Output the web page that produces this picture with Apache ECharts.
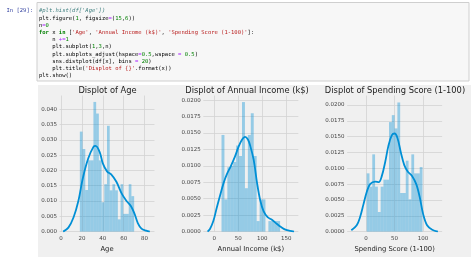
<!DOCTYPE html>
<html>
<head>
<meta charset="utf-8">
<script src="https://cdn.jsdelivr.net/npm/echarts@6/dist/echarts.min.js"></script>
<style>
  html, body { margin: 0; padding: 0; background: #fff; }
  #chart { width: 474px; height: 258px; }
</style>
</head>
<body>
<div id="chart"></div>
<script>
// --- data ---
// histograms: 20 bins between the data min and max, density values
var ageRange = [18, 70];
var ageHist = [0.0327, 0.0270, 0.0136, 0.0233, 0.0233, 0.0424, 0.0386, 0.0233, 0.0096, 0.0155,
               0.0346, 0.0135, 0.0155, 0.0135, 0.0040, 0.0155, 0.0058, 0.0058, 0.0155, 0.0116];
var incomeRange = [15, 137];
var incomeHist = [0.0147, 0.0049, 0.0098, 0.0100, 0.0106, 0.0131, 0.0115, 0.0197, 0.0066, 0.0147,
                  0.0180, 0.0115, 0.0016, 0.0049, 0.0049, 0.0000, 0.0016, 0.0016, 0.0016, 0.0016];
var spendRange = [1, 99];
var spendHist = [0.0092, 0.0071, 0.0122, 0.0071, 0.0031, 0.0071, 0.0082, 0.0082, 0.0173, 0.0184,
                 0.0163, 0.0204, 0.0061, 0.0061, 0.0112, 0.0051, 0.0122, 0.0092, 0.0092, 0.0102];

// kde curves
var ageKdeX = [2, 7, 12, 16.5, 21, 26, 31, 33, 37, 40, 44, 48, 53, 58, 62.5, 67, 70.5, 73.5, 77, 81.5, 85];
var ageKdeY = [0.0000, 0.0013, 0.0047, 0.0099, 0.0177, 0.0239, 0.0277, 0.0280, 0.0260, 0.0223, 0.0197,
               0.0187, 0.0163, 0.0125, 0.0101, 0.0083, 0.0057, 0.0028, 0.0010, 0.0003, 0.0000];
var incomeKdeX = [-14, -9, -2, 5, 12, 19, 26, 34, 43, 50, 57, 64, 70, 75, 82, 89, 95.5, 102.5, 111, 120, 130, 139, 148, 158, 166];
var incomeKdeY = [0.0000, 0.0004, 0.0016, 0.0036, 0.0055, 0.0073, 0.0087, 0.0099, 0.0114, 0.0128, 0.0139, 0.0144, 0.0140,
                  0.0130, 0.0109, 0.0074, 0.0048, 0.0031, 0.0022, 0.0018, 0.0012, 0.0007, 0.0003, 0.0001, 0.0000];
var spendKdeX = [-26, -16.5, -10.6, -4.7, 1.2, 7, 16, 22, 27.6, 33.5, 39, 45, 50, 55, 61, 67, 73, 80.6, 88, 94, 100, 107, 116, 126];
var spendKdeY = [0.0002, 0.0010, 0.0023, 0.0043, 0.0063, 0.0075, 0.0079, 0.0078, 0.0088, 0.0110, 0.0135, 0.0152,
                 0.0155, 0.0148, 0.0125, 0.0105, 0.0095, 0.0088, 0.0075, 0.0055, 0.0028, 0.0010, 0.0003, 0.0000];

// tick labels
var ageXTicks = [0, 20, 40, 60, 80];
var incomeXTicks = [0, 50, 100, 150];
var spendXTicks = [0, 50, 100];
var ageYTicks = [0, 0.005, 0.010, 0.015, 0.020, 0.025, 0.030, 0.035, 0.040];
var smallYTicks = [0, 0.0025, 0.0050, 0.0075, 0.0100, 0.0125, 0.0150, 0.0175, 0.0200];

var titles = ['Displot of Age', 'Displot of Annual Income (k$)', 'Displot of Spending Score (1-100)'];
var xNames = ['Age', 'Annual Income (k$)', 'Spending Score (1-100)'];

var codeLines = [
  "{c|#plt.hist(df['Age'])}",
  "plt.figure({n|1}, figsize{o|=}({n|15},{n|6}))",
  "n{o|=}{n|0}",
  "{k|for} x {k|in} [{s|'Age'}, {s|'Annual Income (k$)'}, {s|'Spending Score (1-100)'}]:",
  "    n {o|+=}{n|1}",
  "    plt.subplot({n|1},{n|3},n)",
  "    plt.subplots_adjust(hspace{o|=}{n|0.5},wspace {o|=} {n|0.5})",
  "    sns.distplot(df[x], bins {o|=} {n|20})",
  "{p|    plt.title(}'Displot of {}'{p|.format(x))}",
  "plt.show()"
];

// --- helpers ---
function binRows(range, vals) {
  var w = (range[1] - range[0]) / vals.length;
  return vals.map(function (v, i) {
    return [range[0] + i * w, range[0] + (i + 1) * w, v];
  });
}
function zip(xs, ys) {
  return xs.map(function (x, i) { return [x, ys[i]]; });
}
function histItem(params, api) {
  var p0 = api.coord([api.value(0), api.value(2)]);
  var p1 = api.coord([api.value(1), 0]);
  return {
    type: 'rect',
    shape: { x: p0[0], y: p0[1], width: p1[0] - p0[0], height: p1[1] - p0[1] },
    style: { fill: 'rgba(0,143,213,0.38)' }
  };
}

var font = 'DejaVu Sans';
var mono = 'DejaVu Sans Mono';
var gridColor = '#d3d3d3';

var plots = [
  { left: 59.5, xmin: -1.5, xmax: 89.5, ymax: 0.0445, xt: ageXTicks, yt: ageYTicks, dec: 3,
    hist: binRows(ageRange, ageHist), kde: zip(ageKdeX, ageKdeY), tx: 107.5 },
  { left: 203.3, xmin: -22.9, xmax: 174.9, ymax: 0.0207, xt: incomeXTicks, yt: smallYTicks, dec: 4,
    hist: binRows(incomeRange, incomeHist), kde: zip(incomeKdeX, incomeKdeY), tx: 247 },
  { left: 347.1, xmin: -33.4, xmax: 133.4, ymax: 0.0215, xt: spendXTicks, yt: smallYTicks, dec: 4,
    hist: binRows(spendRange, spendHist), kde: zip(spendKdeX, spendKdeY), tx: 395 }
];

var grids = [], xAxes = [], yAxes = [], series = [];
plots.forEach(function (p, i) {
  grids.push({ left: p.left, top: 95.5, width: 95, height: 142.5, containLabel: false });
  xAxes.push({
    gridIndex: i, type: 'value', min: p.xmin, max: p.xmax,
    axisLine: { show: false },
    axisTick: { show: false, customValues: p.xt },
    axisLabel: { customValues: p.xt, fontSize: 5.5, fontFamily: font, color: '#444', margin: 3.5 },
    splitLine: { show: true, lineStyle: { color: gridColor, width: 0.8 } },
    name: xNames[i], nameLocation: 'middle', nameGap: 10.5,
    nameTextStyle: { fontSize: 6.8, fontFamily: font, color: '#222' }
  });
  yAxes.push({
    gridIndex: i, type: 'value', min: 0, max: p.ymax,
    axisLine: { show: false },
    axisTick: { show: false, customValues: p.yt },
    axisLabel: {
      customValues: p.yt, fontSize: 5.5, fontFamily: font, color: '#444', margin: 2.5,
      formatter: (function (d) { return function (v) { return v.toFixed(d); }; })(p.dec)
    },
    splitLine: { show: true, lineStyle: { color: gridColor, width: 0.8 } }
  });
  series.push({
    type: 'custom', xAxisIndex: i, yAxisIndex: i,
    renderItem: histItem, encode: { x: [0, 1], y: 2 },
    data: p.hist, silent: true
  });
  series.push({
    type: 'line', xAxisIndex: i, yAxisIndex: i,
    data: p.kde, smooth: 0.35, showSymbol: false, silent: true,
    lineStyle: { color: '#008fd5', width: 1.8 }
  });
});

// notebook chrome + texts
var graphic = [
  { type: 'rect', z: -10, shape: { x: 37, y: 2.5, width: 432, height: 78.5 },
    style: { fill: '#f7f7f7', stroke: '#cfcfcf', lineWidth: 1 } },
  { type: 'rect', z: -10, shape: { x: 38, y: 85, width: 433, height: 172 },
    style: { fill: '#f0f0f0' } },
  { type: 'text', x: 33, y: 11, style: { text: 'In [29]:', align: 'right', verticalAlign: 'middle',
    fontSize: 5.5, fontFamily: mono, fill: '#303F9F' } }
];
var richBase = function (extra) {
  var o = { fontSize: 5.5, fontFamily: mono, fill: '#000' };
  for (var k in extra) o[k] = extra[k];
  return o;
};
codeLines.forEach(function (line, i) {
  var isTitleLine = line.indexOf('{p|') === 0;
  graphic.push({
    type: 'text', x: 39, y: 11 + i * 7.2,
    style: {
      text: line, verticalAlign: 'middle', align: 'left',
      fontSize: 5.5, fontFamily: mono, fill: isTitleLine ? '#BA2121' : '#000',
      rich: {
        c: richBase({ fill: '#408080', fontStyle: 'italic' }),
        k: richBase({ fill: '#008000', fontWeight: 'bold' }),
        s: richBase({ fill: '#BA2121' }),
        n: richBase({ fill: '#008000' }),
        o: richBase({ fill: '#AA22FF' }),
        p: richBase({ fill: '#000' })
      }
    }
  });
});
plots.forEach(function (p, i) {
  graphic.push({
    type: 'text', x: p.tx, y: 90.5,
    style: { text: titles[i], align: 'center', verticalAlign: 'middle',
      fontSize: 8.3, fontFamily: font, fill: '#222' }
  });
});

var chart = echarts.init(document.getElementById('chart'), null, { renderer: 'canvas' });
chart.setOption({
  backgroundColor: '#ffffff',
  animation: false,
  grid: grids,
  xAxis: xAxes,
  yAxis: yAxes,
  series: series,
  graphic: graphic
});
</script>
</body>
</html>
